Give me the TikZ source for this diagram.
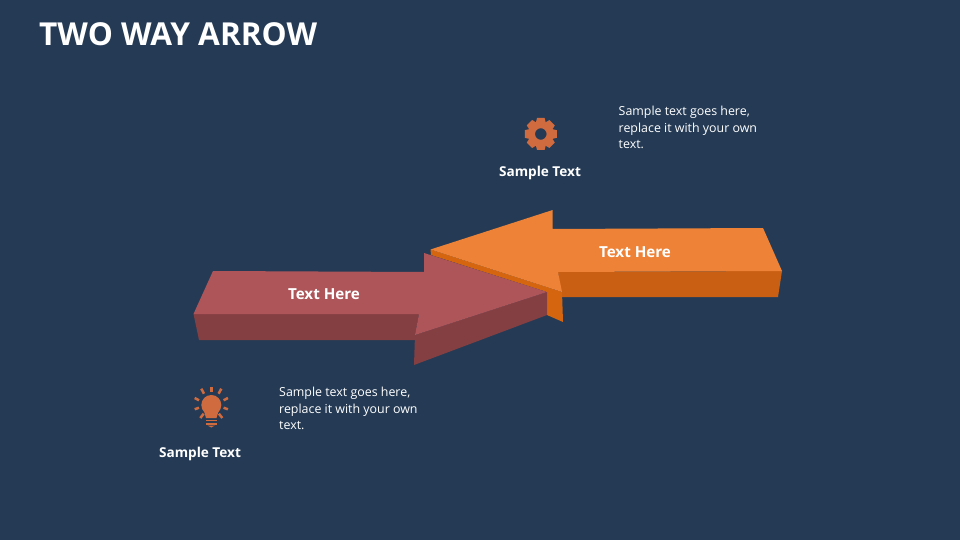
\documentclass[tikz,border=0pt]{standalone}
\usepackage{fontspec}
\setmainfont{Open Sans}
\usepackage{tikz}

\definecolor{slide}{HTML}{253B55}
\definecolor{orangetop}{HTML}{EE8236}
\definecolor{orangeside}{HTML}{C85F12}
\definecolor{orangetip}{HTML}{D5660F}
\definecolor{redtop}{HTML}{AE555A}
\definecolor{redside}{HTML}{843F42}
\definecolor{icon}{HTML}{D06B3F}

\tikzset{
  heading/.style = {text=white, font=\fontsize{31.6}{38}\selectfont\bfseries, anchor=west, inner sep=0pt},
  arrowlabel/.style = {text=white, font=\fontsize{15.2}{18}\selectfont\bfseries, inner sep=0pt},
  caption/.style = {text=white, font=\fontsize{13.6}{16}\selectfont\bfseries, inner sep=0pt},
  blurb/.style = {text=white, font=\fontsize{12.4}{16.5}\selectfont, align=left, anchor=north west, inner sep=0pt},
  ray/.style = {draw=icon, line width=2.5pt},
}

\begin{document}
\begin{tikzpicture}[x=1pt, y=-1pt]
    % slide background
    \fill[slide] (0,0) rectangle (960,540);
    \useasboundingbox (0,0) rectangle (960,540);

    \node[heading] (title) at (39,34.5) {TWO WAY ARROW};

    % draw orange arrow
    \fill[orangeside] (558,272) -- (782,271) -- (778,297) -- (562,297) -- cycle;
    \fill[orangetip] (430.5,249.5) -- (562,292) -- (563,322) -- (547,315) -- (547,292) -- (431,255) -- cycle;
    \fill[orangetop] (430.5,249.5) -- (552.7,210) -- (552.5,229) -- (763,228) -- (782,271)
                  -- (558,272) -- (562,292) -- cycle;

    % draw red arrow
    \fill[redside] (193.5,314) -- (419,314) -- (415,335) -- (415,340) -- (199,340) -- cycle;
    \fill[redside] (415,335) -- (547,292) -- (547,315) -- (414,365) -- cycle;
    \fill[redtop] (193.5,314) -- (213,271) -- (424,272) -- (424,253) -- (547,292)
               -- (415,335) -- (419,314) -- cycle;

    \node[arrowlabel] (orangelabel) at (635,252.3) {Text Here};
    \node[arrowlabel] (redlabel) at (324,294.3) {Text Here};

    % draw gear
    \fill[icon, even odd rule]
      (540.8,134) circle [radius = 5.8]
      (540.8,134) circle [radius = 12.5];
    \foreach \a in {0,45,...,315}
      \fill[icon, shift={(540.8,134)}, rotate=\a] (-5,-11) -- (-3.8,-16) -- (3.8,-16) -- (5,-11) -- cycle;

    % draw bulb
    \fill[icon] (211.3,405) circle [radius = 10];
    \fill[icon] (204,411) -- (218.6,411) -- (216.5,418) -- (206,418) -- cycle;
    \fill[icon] (205.5,419.5) rectangle (217,421.3);
    \fill[icon] (206,423) rectangle (216.5,424.7);
    \fill[icon] (207.5,425.5) -- (215,425.5) -- (211.3,427.5) -- cycle;
    \foreach \x/\y/\u/\v in {211.3/387/211.3/392, 201.3/388.7/204/393.7, 221.3/388.7/218.6/393.7,
                             194.7/398/199/400.3, 227.9/398/223.6/400.3, 194.7/409.3/199/407.7,
                             227.9/409.3/223.6/407.7, 200.3/418/203.7/413.7, 222.3/418/218.9/413.7}
      \draw[ray] (\x,\y) -- (\u,\v);

    % draw captions and texts
    \node[caption] (gearcaption) at (540,172.5) {Sample Text};
    \node[caption] (bulbcaption) at (200,453.5) {Sample Text};
    \node[blurb] (gearblurb) at (618.5,106) {Sample text goes here,\\replace it with your own\\text.};
    \node[blurb] (bulbblurb) at (279,387) {Sample text goes here,\\replace it with your own\\text.};
\end{tikzpicture}
\end{document}
